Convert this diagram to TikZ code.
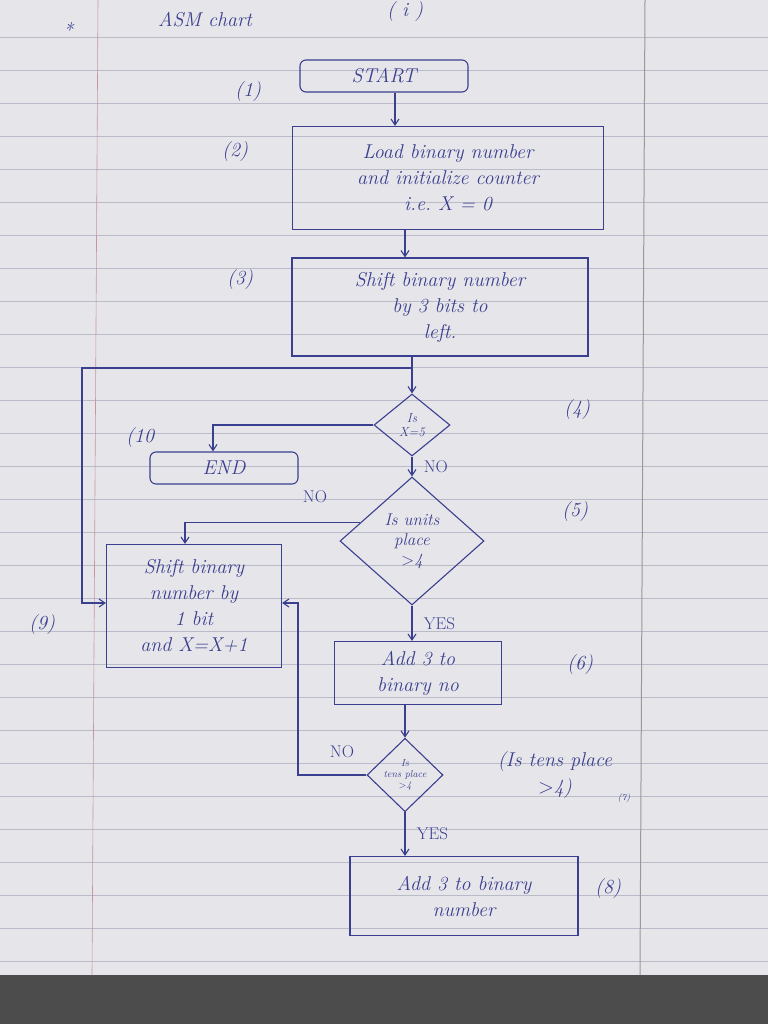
\documentclass[tikz,border=0pt]{standalone}
\usetikzlibrary{shapes.geometric,arrows.meta,calc}
\begin{document}
\begin{tikzpicture}[x=1pt,y=-1pt,
  ink/.style={draw=inkc,line width=1.1pt},
  lbl/.style={text=inkc,font=\fontsize{20}{26}\selectfont\itshape,align=center},
  yn/.style={lbl,font=\fontsize{17}{20}\selectfont},
  box/.style={ink,rectangle,lbl,inner sep=0pt},
  term/.style={ink,rectangle,rounded corners=6pt,lbl,inner sep=0pt},
  dec/.style={ink,diamond,lbl,inner sep=0pt},
  arr/.style={ink,-{Straight Barb[length=6pt,width=8pt]}}]
\definecolor{inkc}{HTML}{3B3F8F}
\definecolor{paper}{HTML}{E6E6EA}
\definecolor{rule}{HTML}{B9BCC8}
\useasboundingbox (0,0) rectangle (768,1024);
\fill[paper] (0,0) rectangle (768,1024);
\fill[black!70] (0,975) rectangle (768,1024);
\foreach \y in {37,70,103,136,169,202,235,268,301,334,367,400,433,466,499,532,565,598,631,664,697,730,763,796,829,862,895,928,961}
  \draw[rule,line width=0.6pt] (0,\y) -- (768,\y);
\draw[rule!80!red,line width=0.6pt] (98,0) -- (92,975);
\draw[black!40,line width=1pt] (645,0) -- (640,975);
% texts
\node[lbl] (star) at (68,30) {*};
\node[lbl] (title) at (205,20) {ASM chart};
\node[lbl] (pg) at (405,12) {( i )};
\node[lbl] (n1) at (248,92) {(1)};
\node[lbl] (n2) at (235,152) {(2)};
\node[lbl] (n3) at (240,280) {(3)};
\node[lbl] (n4) at (577,410) {(4)};
\node[lbl] (n5) at (575,512) {(5)};
\node[lbl] (n6) at (580,665) {(6)};
\node[lbl] (n8) at (608,888) {(8)};
\node[lbl] (n9) at (42,625) {(9)};
\node[lbl] (n10) at (140,438) {(10};
% nodes
\node[term,minimum width=168,minimum height=32] (start) at (384,76) {START};
\node[box,minimum width=311,minimum height=103] (b2) at (448,178) {Load binary number\\and initialize counter\\i.e.\ X = 0};
\node[box,minimum width=296,minimum height=98] (b3) at (440,307) {Shift binary number\\by 3 bits to\\left.};
\node[dec,minimum width=76,minimum height=62,font=\fontsize{13}{14}\selectfont\itshape] (d4) at (412,425) {Is\\X=5};
\node[term,minimum width=148,minimum height=32] (end) at (224,468) {END};
\node[dec,minimum width=144,minimum height=128,font=\fontsize{17}{20}\selectfont\itshape] (d5) at (412,541) {Is units\\place\\$>$4};
\node[box,minimum width=175,minimum height=123] (b9) at (194,606) {Shift binary\\number by\\1 bit\\and X=X+1};
\node[box,minimum width=167,minimum height=63] (b6) at (418,673) {Add 3 to\\binary no};
\node[dec,minimum width=76,minimum height=70,font=\fontsize{10}{11}\selectfont\itshape] (d7) at (405,775) {Is\\tens place\\$>$4};
\node[box,minimum width=228,minimum height=79] (b8) at (464,896) {Add 3 to binary\\number};
\node[lbl] (n7) at (555,775) {(Is tens place\\$>$4)};
\node[lbl,font=\small\itshape] (n7b) at (624,798) {(7)};
% connectors
\draw[arr] (start.south -| 395,0) -- (b2.north -| 395,0);
\draw[arr] (b2.south -| 405,0) -- (b3.north -| 405,0);
\coordinate (j) at (412,368);
\draw[arr] (b3.south -| 412,0) -- (d4.north);
\draw[arr] (j) -- (82,368) -- (82,603) -- (b9.west |- 0,603);
\draw[arr] (d4.west) -- (213,425) -- (end.north -| 213,0);
\draw[arr] (d4.south) -- (d5.north) node[yn,pos=0.5,right=8pt] {NO};
\coordinate (d5l) at ($(d5.north)!0.72!(d5.west)$);
\draw[arr] (d5l) -- (185,0 |- d5l) -- (b9.north -| 185,0);
\node[yn] (no5) at (315,497) {NO};
\draw[arr] (d5.south) -- (b6.north -| d5.south) node[yn,pos=0.5,right=8pt] {YES};
\draw[arr] (b6.south -| d7.north) -- (d7.north);
\draw[arr] (d7.west) -- (298,0 |- d7.west) -- (298,603) -- (b9.east |- 0,603);
\node[yn] (no7) at (342,752) {NO};
\draw[arr] (d7.south) -- (b8.north -| d7.south) node[yn,pos=0.5,right=8pt] {YES};
\end{tikzpicture}
\end{document}
